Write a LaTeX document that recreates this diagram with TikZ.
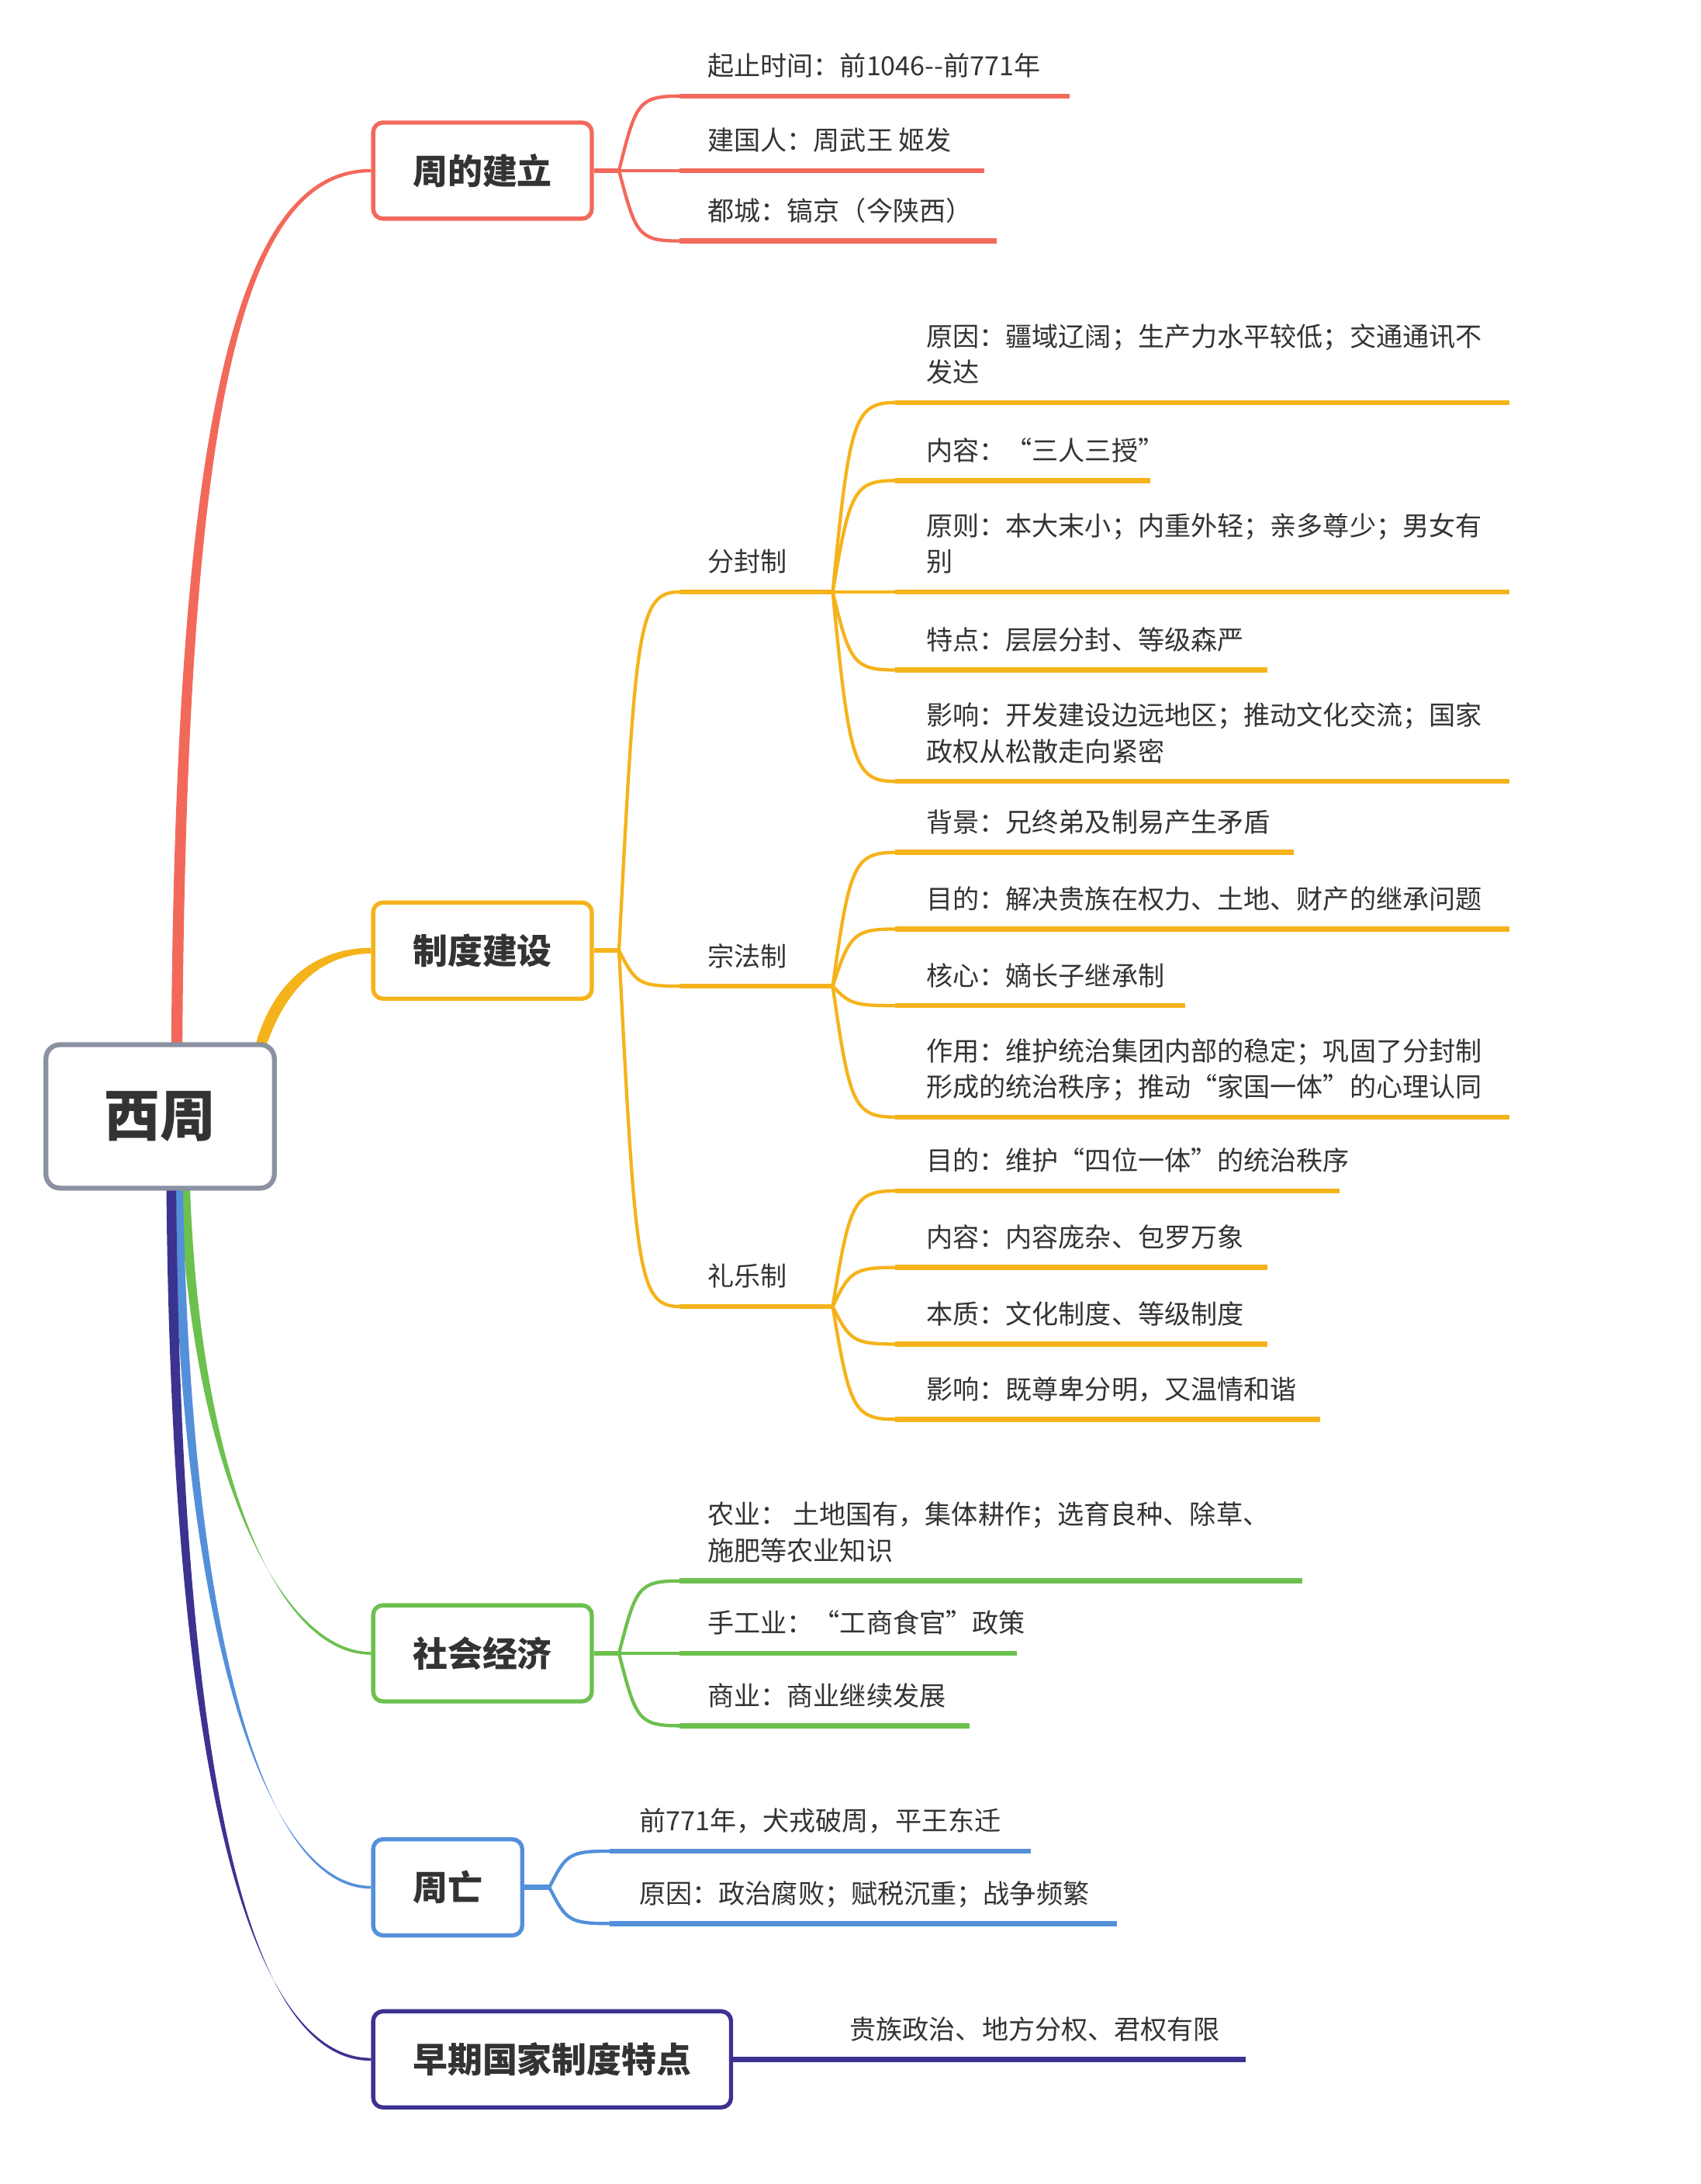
\documentclass[tikz,border=0pt]{standalone}
\usepackage{fontspec}
\setmainfont{Noto Sans CJK SC}
\usetikzlibrary{calc}
\pgfdeclarelayer{bg}
\pgfsetlayers{bg,main}
\definecolor{cRed}{HTML}{F2695B}
\definecolor{cOr}{HTML}{F5B31B}
\definecolor{cGr}{HTML}{6CC04E}
\definecolor{cBl}{HTML}{5490DA}
\definecolor{cNv}{HTML}{3C3290}
\definecolor{cGray}{HTML}{8A91A1}
\definecolor{cTxt}{HTML}{333333}
\tikzset{
  box/.style={draw, line width=3pt, rounded corners=7pt, fill=white, text=cTxt,
    inner sep=0pt, font=\fontsize{25}{30}\selectfont\bfseries},
  leaft/.style={anchor=base west, inner sep=0pt, text=cTxt, font=\fontsize{19}{26}\selectfont},
  twig/.style={line width=2.4pt},
  bar/.style={line width=3.6pt},
  stub/.style={line width=3.5pt},
}
% #1 name, #2 fork, #3 start x, #4 line y, #5 end x, #6 text x, #7 text
\newcommand\mmleaf[7]{%
  \coordinate (#1a) at (#3,#4);
  \coordinate (#1b) at (#5,#4);
  \draw[twig] (#2) .. controls ($(#2)!0.9!(#2 |- #1a)+(12,0)$) and ($(#1a)+(-30,0)$) .. (#1a);
  \draw[bar] (#1a) -- (#1b);
  \node[leaft] (#1t) at (#6,#4-14.5) {\parbox[b]{600pt}{\raggedright #7}};
}
\begin{document}
\begin{tikzpicture}[x=1pt,y=-1pt]
\useasboundingbox (0,0) rectangle (1221,1568);
\begin{pgfonlayer}{bg}\fill[white] (0,0) rectangle (1221,1568);\end{pgfonlayer}

% ---------- boxes ----------
\node[box, draw=cGray, line width=3.5pt, rounded corners=10pt, minimum width=164pt,
  minimum height=103pt, font=\fontsize{40}{44}\selectfont\bfseries] (root) at (115,801.5) {西周};
\node[box, draw=cRed, minimum width=157pt, minimum height=69pt] (jl) at (346.5,122.5) {周的建立};
\node[box, draw=cOr, minimum width=157pt, minimum height=69pt] (zd) at (346.5,682.5) {制度建设};
\node[box, draw=cGr, minimum width=157pt, minimum height=69pt] (sh) at (346.5,1187) {社会经济};
\node[box, draw=cBl, minimum width=107pt, minimum height=69pt] (zw) at (321.5,1355) {周亡};
\node[box, draw=cNv, minimum width=257pt, minimum height=69pt] (tz) at (396.5,1478.5) {早期国家制度特点};

\coordinate (jlf) at ($(jl.east)+(18,0)$);
\coordinate (zdf) at ($(zd.east)+(18,0)$);
\coordinate (shf) at ($(sh.east)+(18,0)$);
\coordinate (zwf) at ($(zw.east)+(18,0)$);
\coordinate (tzl) at ($(tz.east)+(368,0)$);

% ---------- main branches ----------
\begin{pgfonlayer}{bg}
\fill[cRed] ($(root.north)+(8,1)$) .. controls (126,300) and (170,121) .. ($(jl.west)+(0,-1.2)$)
  -- ($(jl.west)+(0,1.2)$) .. controls (172,124) and (134,300) .. ($(root.north)+(16,1)$) -- cycle;
\fill[cOr] ($(root.north east)+(-15,1)$) .. controls (197,703) and (228,680.5) .. ($(zd.west)+(0,-2)$)
  -- ($(zd.west)+(0,2)$) .. controls (231,685) and (206,709) .. ($(root.north east)+(-7,1)$) -- cycle;
\fill[cGr] ($(root.south)+(14.5,-1)$) .. controls (136.5,1050) and (200,1186) .. ($(sh.west)+(0,-1)$)
  -- ($(sh.west)+(0,1)$) .. controls (196,1188) and (143.5,1050) .. ($(root.south)+(21.5,-1)$) -- cycle;
\fill[cBl] ($(root.south)+(9.5,-1)$) .. controls (129.5,1170) and (190,1354) .. ($(zw.west)+(0,-1)$)
  -- ($(zw.west)+(0,1)$) .. controls (188,1356) and (136.5,1170) .. ($(root.south)+(16.5,-1)$) -- cycle;
\fill[cNv] ($(root.south)+(4.5,-1)$) .. controls (123.5,1300) and (185,1477.5) .. ($(tz.west)+(0,-1)$)
  -- ($(tz.west)+(0,1)$) .. controls (183,1479.5) and (130.5,1300) .. ($(root.south)+(11.5,-1)$) -- cycle;
\draw[stub, cRed] (jl.east) -- (jlf);
\draw[stub, cOr] (zd.east) -- (zdf);
\draw[stub, cGr] (sh.east) -- (shf);
\draw[stub, cBl] (zw.east) -- (zwf);
\draw[line width=3.6pt, cNv] (tz.east) -- (tzl);
\end{pgfonlayer}

% ---------- 周的建立 ----------
\begin{scope}[color=cRed]
\mmleaf{r1}{jlf}{488}{69}{768}{508}{起止时间：前1046-{}-前771年}
\mmleaf{r2}{jlf}{488}{122.5}{707}{508}{建国人：周武王 姬发}
\mmleaf{r3}{jlf}{488}{173}{716}{508}{都城：镐京（今陕西）}
\end{scope}

% ---------- 制度建设 ----------
\begin{scope}[color=cOr]
\mmleaf{ff}{zdf}{488}{425}{598}{508}{分封制}
\mmleaf{zf}{zdf}{488}{708}{598}{508}{宗法制}
\mmleaf{ly}{zdf}{488}{938}{598}{508}{礼乐制}

\mmleaf{f1}{ffb}{643}{289}{1084}{665}{原因：疆域辽阔；生产力水平较低；交通通讯不\\发达}
\mmleaf{f2}{ffb}{643}{345}{826}{665}{内容：“三人三授”}
\mmleaf{f3}{ffb}{643}{425}{1084}{665}{原则：本大末小；内重外轻；亲多尊少；男女有\\别}
\mmleaf{f4}{ffb}{643}{481}{910}{665}{特点：层层分封、等级森严}
\mmleaf{f5}{ffb}{643}{561}{1084}{665}{影响：开发建设边远地区；推动文化交流；国家\\政权从松散走向紧密}

\mmleaf{z1}{zfb}{643}{612}{929}{665}{背景：兄终弟及制易产生矛盾}
\mmleaf{z2}{zfb}{643}{667}{1084}{665}{目的：解决贵族在权力、土地、财产的继承问题}
\mmleaf{z3}{zfb}{643}{722}{851}{665}{核心：嫡长子继承制}
\mmleaf{z4}{zfb}{643}{802}{1084}{665}{作用：维护统治集团内部的稳定；巩固了分封制\\形成的统治秩序；推动“家国一体”的心理认同}

\mmleaf{l1}{lyb}{643}{855}{962}{665}{目的：维护“四位一体”的统治秩序}
\mmleaf{l2}{lyb}{643}{910}{910}{665}{内容：内容庞杂、包罗万象}
\mmleaf{l3}{lyb}{643}{965}{910}{665}{本质：文化制度、等级制度}
\mmleaf{l4}{lyb}{643}{1019}{948}{665}{影响：既尊卑分明，又温情和谐}
\end{scope}

% ---------- 社会经济 ----------
\begin{scope}[color=cGr]
\mmleaf{g1}{shf}{488}{1135}{935}{508}{农业： 土地国有，集体耕作；选育良种、除草、\\施肥等农业知识}
\mmleaf{g2}{shf}{488}{1187}{730}{508}{手工业：“工商食官”政策}
\mmleaf{g3}{shf}{488}{1239}{696}{508}{商业：商业继续发展}
\end{scope}

% ---------- 周亡 ----------
\begin{scope}[color=cBl]
\mmleaf{b1}{zwf}{438}{1329}{740}{459}{前771年，犬戎破周，平王东迁}
\mmleaf{b2}{zwf}{438}{1381}{802}{459}{原因：政治腐败；赋税沉重；战争频繁}
\end{scope}

% ---------- 早期国家制度特点 ----------
\node[leaft] (n1t) at (610,1478.5-14.5) {贵族政治、地方分权、君权有限};
\end{tikzpicture}
\end{document}
